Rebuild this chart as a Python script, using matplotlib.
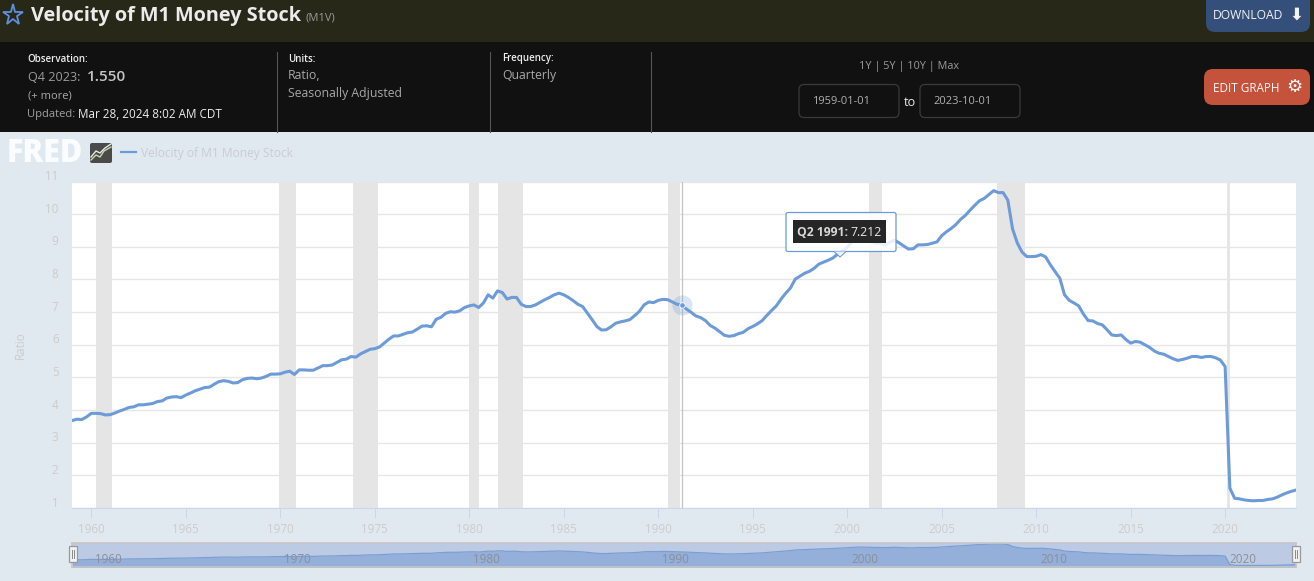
import numpy as np
import matplotlib
matplotlib.use("Agg")
import matplotlib.pyplot as plt
from matplotlib.patches import FancyBboxPatch, Rectangle, Polygon
from matplotlib.transforms import ScaledTranslation

plt.rcParams['font.family'] = ['Open Sans', 'DejaVu Sans']

START_YEAR = 1959.0
velocity = [
    3.68, 3.72, 3.71, 3.79,  3.90, 3.90, 3.89, 3.85,  3.86, 3.91, 3.97, 4.02,
    4.08, 4.10, 4.16, 4.16,  4.18, 4.20, 4.26, 4.28,  4.37, 4.40, 4.41, 4.38,
    4.46, 4.52, 4.59, 4.64,  4.69, 4.70, 4.79, 4.87,  4.90, 4.88, 4.83, 4.84,
    4.93, 4.97, 4.98, 4.96,  4.98, 5.03, 5.10, 5.10,  5.11, 5.16, 5.19, 5.09,
    5.23, 5.23, 5.22, 5.22,  5.29, 5.36, 5.36, 5.38,  5.46, 5.54, 5.56, 5.64,
    5.62, 5.72, 5.79, 5.86,  5.88, 5.93, 6.05, 6.17,  6.27, 6.27, 6.32, 6.37,
    6.39, 6.48, 6.57, 6.58,  6.55, 6.78, 6.84, 6.96,  7.01, 7.00, 7.04, 7.14,
    7.19, 7.22, 7.14, 7.28,  7.53, 7.43, 7.65, 7.60,  7.40, 7.45, 7.45, 7.24,
    7.17, 7.17, 7.22, 7.30,  7.38, 7.45, 7.53, 7.58,  7.53, 7.45, 7.35, 7.24,
    7.17, 6.97, 6.77, 6.56,  6.45, 6.46, 6.55, 6.66,  6.70, 6.73, 6.77, 6.89,
    7.02, 7.22, 7.31, 7.29,  7.36, 7.39, 7.38, 7.31,  7.24, 7.212, 7.09, 6.99,
    6.88, 6.83, 6.74, 6.59,  6.51, 6.40, 6.29, 6.26,  6.28, 6.34, 6.38, 6.49,
    6.56, 6.64, 6.74, 6.90,  7.05, 7.19, 7.40, 7.58,  7.74, 8.01, 8.10, 8.19,
    8.25, 8.34, 8.47, 8.53,  8.59, 8.66, 8.78, 8.88,  8.98, 9.15, 9.24, 9.30,
    9.26, 9.18, 9.12, 9.11,  9.05, 9.14, 9.20, 9.12,  9.02, 8.93, 8.94, 9.06,
    9.06, 9.07, 9.11, 9.15,  9.34, 9.46, 9.56, 9.68,  9.84, 9.96, 10.12, 10.27,
    10.41, 10.48, 10.60, 10.72,  10.66, 10.66, 10.43, 9.55,  9.12, 8.84, 8.70, 8.70,
    8.71, 8.76, 8.69, 8.45,  8.24, 8.04, 7.53, 7.36,  7.28, 7.19, 6.94, 6.74,
    6.73, 6.65, 6.61, 6.46,  6.30, 6.28, 6.30, 6.16,  6.05, 6.10, 6.08, 6.00,
    5.92, 5.81, 5.74, 5.71,  5.64, 5.57, 5.52, 5.55,  5.59, 5.64, 5.64, 5.61,
    5.64, 5.64, 5.60, 5.53,  5.33, 1.61, 1.30, 1.28,  1.25, 1.23, 1.22, 1.23,
    1.23, 1.26, 1.28, 1.33,  1.40, 1.46, 1.51, 1.55,
]
recession_starts = [1960.25, 1969.92, 1973.83, 1980.0, 1981.5, 1990.5, 2001.17, 2007.92, 2020.08]
recession_ends = [1961.08, 1970.83, 1975.17, 1980.5, 1982.83, 1991.17, 2001.83, 2009.42, 2020.25]
y_ticks = [1, 2, 3, 4, 5, 6, 7, 8, 9, 10, 11]
x_ticks = [1960, 1965, 1970, 1975, 1980, 1985, 1990, 1995, 2000, 2005, 2010, 2015, 2020]
nav_labels = [1960, 1970, 1980, 1990, 2000, 2010, 2020]
hover_year = 1991.25
hover_value = 7.212

years = START_YEAR + np.arange(len(velocity)) / 4

W, H = 1314, 581
BG = '#e1e9f0'
LINE = '#6d9bd8'
fig = plt.figure(figsize=(W / 100, H / 100), dpi=100, facecolor=BG)


def pixel_axes(zorder):
    a = fig.add_axes([0, 0, 1, 1], zorder=zorder)
    a.set_xlim(0, W)
    a.set_ylim(H, 0)
    a.axis('off')
    a.patch.set_alpha(0)
    return a


def box_axes(x0, y0, x1, y1, zorder):
    return fig.add_axes([x0 / W, 1 - y1 / H, (x1 - x0) / W, (y1 - y0) / H], zorder=zorder)


def rbox(a, x0, y0, x1, y1, r, **kw):
    p = FancyBboxPatch((x0, y0), x1 - x0, y1 - y0,
                       boxstyle=f'round,pad=0,rounding_size={r}', **kw)
    a.add_patch(p)
    return p


# ---- page chrome ----
ch = pixel_axes(1)
ch.add_patch(Rectangle((0, 0), W, 42, fc='#282818', ec='none'))
ch.add_patch(Rectangle((0, 42), W, 90, fc='#111111', ec='none'))
ch.plot([13], [15], marker='*', ms=15.5, mfc='none', mec='#5f8fe0', mew=1.3)
ch.text(31, 16, 'Velocity of M1 Money Stock', color='#ececec', fontsize=14.3,
        fontweight='bold', va='center', ha='left')
ch.text(306, 18, '(M1V)', color='#9a9a9a', fontsize=8, va='center', ha='left')
rbox(ch, 1206, -8, 1310, 32, 9, fc='#34507a', ec='none')
ch.text(1213, 15.5, 'DOWNLOAD', color='#f2f2f2', fontsize=8.7, va='center', ha='left')
ch.text(1296, 15, '\u2b07', color='#f2f2f2', fontsize=12, va='center', ha='center',
        family='DejaVu Sans', fontweight='bold')
rbox(ch, 1204, 69, 1310, 105, 9, fc='#c5523b', ec='none')
ch.text(1213, 88, 'EDIT GRAPH', color='#f7f7f7', fontsize=8.5, va='center', ha='left')
ch.text(1294, 86.5, '\u2699', color='#f7f7f7', fontsize=13, va='center', ha='center',
        family='DejaVu Sans', fontweight='bold')

for x in (277, 490, 651):
    ch.plot([x, x], [52, 132], color='#555555', lw=0.8)

ch.text(27.5, 59, 'Observation:', color='#eeeeee', fontsize=7, fontweight='semibold', va='center')
ch.text(27.5, 77.5, 'Q4 2023:', color='#9b9b9b', fontsize=9.1, va='center')
ch.text(86.5, 77, '1.550', color='#c4c4c4', fontsize=11, fontweight='semibold', va='center')
ch.text(27.5, 96, '(+ more)', color='#a8a8a8', fontsize=8, va='center')
ch.text(27.5, 114, 'Updated:', color='#a0a0a0', fontsize=8, va='center')
ch.text(78.5, 114, 'Mar 28, 2024 8:02 AM CDT', color='#ededed', fontsize=8.4, va='center')
ch.text(288, 59, 'Units:', color='#eeeeee', fontsize=7, fontweight='semibold', va='center')
ch.text(288, 75.5, 'Ratio,', color='#a8a8a8', fontsize=8.8, va='center')
ch.text(288, 93.5, 'Seasonally Adjusted', color='#a8a8a8', fontsize=8.8, va='center')
ch.text(502, 59, 'Frequency:', color='#eeeeee', fontsize=7, fontweight='semibold', va='center')
ch.text(502, 75.5, 'Quarterly', color='#a8a8a8', fontsize=8.8, va='center')
ch.text(909.5, 66, '1Y | 5Y | 10Y | Max', color='#9a9a9a', fontsize=7.8, va='center', ha='center')
for x0, txt in ((799, '1959-01-01'), (920, '2023-10-01')):
    rbox(ch, x0, 84.5, x0 + 100, 117.5, 5, fc='#111111', ec='#3a3a3a', lw=0.9)
    ch.text(x0 + 13, 101, txt, color='#b0b0b0', fontsize=8, va='center')
ch.text(910, 102, 'to', color='#e8e8e8', fontsize=9.2, va='center', ha='center')

ch.text(7, 154, 'FRED', color='#fbfcfd', fontsize=22, fontweight='extra bold',
        va='center', ha='left')
rbox(ch, 90, 143, 112, 163, 2, fc='#4a4a4a', ec='none')
ch.plot([91, 96, 100, 104, 111], [160, 155, 157, 151, 147], color='#c8d8a8', lw=1)
ch.plot([91, 96, 100, 105, 111], [157, 151, 153, 148, 144], color='#e8e8e8', lw=1)
ch.plot([121, 136], [152, 152], color=LINE, lw=1.6)
ch.text(141, 154, 'Velocity of M1 Money Stock', color='#c9cdd1', fontsize=8.65,
        va='center', ha='left')

# ---- main chart ----
PL, PR, PT, PB = 72.4, 1296, 181.5, 508
ax = box_axes(PL, PT, PR, PB, 2)
ax.set_facecolor('white')
ax.set_xlim(START_YEAR, years[-1])
ax.set_ylim(1, 11)
ax.set_yticks(y_ticks)
ax.set_xticks(x_ticks)
ax.grid(axis='y', color='#e6e6e6', lw=1)
ax.set_axisbelow(True)
for s in ('top', 'right', 'left'):
    ax.spines[s].set_visible(False)
ax.spines['bottom'].set_color('#ccd6eb')
ax.spines['bottom'].set_linewidth(0.8)
ax.tick_params(axis='x', length=7.5, width=0.7, color='#ccd6eb', labelcolor='#cccccc',
               labelsize=8.4, pad=3)
ax.tick_params(axis='y', length=0, labelcolor='#cccccc', labelsize=8.4, pad=10)
shift = ScaledTranslation(0, -1.2 / 72, fig.dpi_scale_trans)
for lab in ax.get_yticklabels():
    lab.set_va('bottom')
    lab.set_transform(lab.get_transform() + shift)
for a, b in zip(recession_starts, recession_ends):
    ax.axvspan(a, b, color='#e5e5e5', lw=0, zorder=1)
ax.axvline(hover_year, color='#c4c4c4', lw=0.9, zorder=2)
ax.plot(years, velocity, color=LINE, lw=2.2, zorder=3, solid_joinstyle='round')
ax.plot([hover_year], [hover_value], 'o', ms=14.5, mfc=LINE, mec='none', alpha=0.25, zorder=4)
ax.plot([hover_year], [hover_value], 'o', ms=4, mfc=LINE, mec='white', mew=0.6, zorder=5)
ax.set_ylabel('Ratio', color='#cccccc', fontsize=8.4, labelpad=13)

# ---- navigator ----
nav = box_axes(PL, 542.5, PR, 567, 2)
nav.set_facecolor('#bccbe3')
nav.set_xlim(START_YEAR, years[-1])
nav.set_ylim(0.55, 11.3)
nav.set_xticks([])
nav.set_yticks([])
for s in nav.spines.values():
    s.set_color('#c6c6c6')
    s.set_linewidth(1.2)
nav.fill_between(years, velocity, 0, color='#94afd9', lw=0)
nav.plot(years, velocity, color='#7b9fd4', lw=0.9)
for yr in nav_labels:
    nav.annotate(str(yr), (yr, 0), xycoords=('data', 'axes fraction'), xytext=(3, 0.8),
                 textcoords='offset points', color='#8a8f98', fontsize=8.4, ha='left', va='bottom')

# ---- overlay: tooltip and navigator handles ----
ov = pixel_axes(3)
rbox(ov, 786, 212.5, 896, 251.5, 2, fc=(1, 1, 1, 0.85), ec=LINE, lw=0.9)
ov.add_patch(Polygon([[834, 251.5], [840, 257], [846, 251.5]], closed=False, fc=(1, 1, 1, 0.85),
                     ec=LINE, lw=0.8))
ov.add_patch(Rectangle((793, 220), 93, 23, fc='#262626', ec='none'))
ov.text(797, 232, 'Q2 1991:', color='#d8d8d8', fontsize=8.7, fontweight='bold', va='center')
ov.text(850.5, 232, '7.212', color='#e8e8e8', fontsize=8.8, va='center')
for x0 in (68.5, 1291.5):
    ov.add_patch(Rectangle((x0, 546), 8, 16, fc='#f2f2f2', ec='#999999', lw=0.9))
    ov.plot([x0 + 3, x0 + 3], [550, 558], color='#888888', lw=0.7)
    ov.plot([x0 + 5, x0 + 5], [550, 558], color='#888888', lw=0.7)

fig.savefig('out.png', dpi=100, facecolor=BG)
